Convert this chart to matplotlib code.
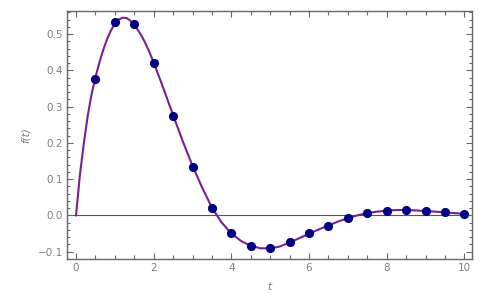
import matplotlib.pyplot as plt
from matplotlib.ticker import MultipleLocator

# sampled points (dots)
t_pts = [0.5, 1.0, 1.5, 2.0, 2.5, 3.0, 3.5, 4.0, 4.5, 5.0,
         5.5, 6.0, 6.5, 7.0, 7.5, 8.0, 8.5, 9.0, 9.5, 10.0]
f_pts = [0.377, 0.532, 0.527, 0.419, 0.274, 0.134, 0.021, -0.050, -0.085, -0.089,
         -0.073, -0.050, -0.029, -0.007, 0.005, 0.013, 0.016, 0.013, 0.009, 0.004]

# smooth curve
t_curve = [0.0, 0.1, 0.2, 0.3, 0.4, 0.5, 0.6, 0.7, 0.8, 0.9, 1.0, 1.1, 1.2, 1.3, 1.4,
           1.5, 1.6, 1.7, 1.8, 1.9, 2.0, 2.25, 2.5, 2.75, 3.0, 3.25, 3.5, 3.75, 4.0, 4.25,
           4.5, 4.75, 5.0, 5.25, 5.5, 5.75, 6.0, 6.25, 6.5, 6.75, 7.0, 7.25, 7.5,
           7.75, 8.0, 8.25, 8.5, 8.75, 9.0, 9.25, 9.5, 9.75, 10.0]
f_curve = [0.0, 0.112, 0.198, 0.274, 0.334, 0.381, 0.421, 0.456, 0.486, 0.510, 0.528,
           0.540, 0.545, 0.544, 0.537, 0.525, 0.510, 0.4925, 0.4715, 0.4475, 0.4215,
           0.350, 0.276, 0.204, 0.136, 0.076, 0.021, -0.020, -0.050, -0.071, -0.084,
           -0.091, -0.091, -0.086, -0.075, -0.063, -0.051, -0.039, -0.028, -0.017,
           -0.008, 0.000, 0.006, 0.010, 0.013, 0.0145, 0.0145, 0.0135, 0.012, 0.010,
           0.008, 0.006, 0.004]

frame_col = "#666666"
text_col = "#7f7f7f"

fig = plt.figure(figsize=(5, 3), dpi=100)
ax = fig.add_axes([0.1347, 0.1357, 0.81, 0.8283])

ax.axhline(0, color="#555555", lw=0.8, zorder=1)
ax.plot(t_curve, f_curve, color="#7a1f96", lw=1.5, zorder=2, solid_joinstyle="round")
ax.plot(t_pts, f_pts, "o", color="#000080", ms=6.6, mew=0, zorder=3)

ax.set_xlim(-0.224, 10.206)
ax.set_ylim(-0.1213, 0.564)

ax.xaxis.set_major_locator(MultipleLocator(2))
ax.xaxis.set_minor_locator(MultipleLocator(0.5))
ax.yaxis.set_major_locator(MultipleLocator(0.1))
ax.yaxis.set_minor_locator(MultipleLocator(0.02))
ax.yaxis.set_major_formatter(plt.FuncFormatter(lambda v, p: "\u22120.1" if v < -0.05 else f"{v:.1f}"))

for s in ax.spines.values():
    s.set_color(frame_col)
    s.set_linewidth(1.0)
ax.tick_params(which="both", direction="in", top=True, right=True, color=frame_col,
               labelcolor=text_col, labelsize=7.5, width=0.8)
ax.tick_params(which="major", length=4, pad=3)
ax.tick_params(which="minor", length=2)
ax.tick_params(axis="x", which="minor", length=3)

ax.set_xlabel("t", style="italic", color=text_col, fontsize=7.5, labelpad=6)
ax.set_ylabel("f(t)", style="italic", color=text_col, fontsize=7.5, labelpad=5)

fig.savefig("out.png", dpi=100)
